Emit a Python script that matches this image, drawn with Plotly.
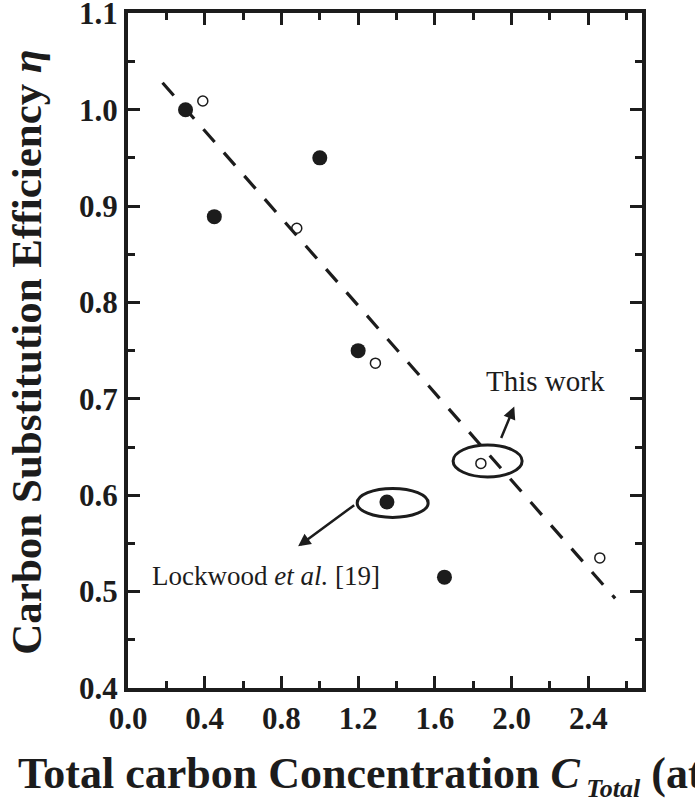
import plotly.graph_objects as go

# Data
lock_x = [0.30, 0.45, 1.00, 1.20, 1.35, 1.65]
lock_y = [1.000, 0.889, 0.950, 0.750, 0.593, 0.515]
work_x = [0.39, 0.88, 1.29, 1.84, 2.46]
work_y = [1.009, 0.877, 0.737, 0.633, 0.535]
fit_x = [0.18, 2.54]
fit_y = [1.028, 0.493]
x_ticks = [0.0, 0.4, 0.8, 1.2, 1.6, 2.0, 2.4]
y_ticks = [0.4, 0.5, 0.6, 0.7, 0.8, 0.9, 1.0, 1.1]

FONT = "Liberation Serif, Times New Roman, serif"
INK = "#1c1c1c"

fig = go.Figure()
fig.add_trace(go.Scatter(x=fit_x, y=fit_y, mode="lines",
                         line=dict(color=INK, width=3.2, dash="17px,14px"),
                         showlegend=False, hoverinfo="skip"))
fig.add_trace(go.Scatter(x=lock_x, y=lock_y, mode="markers",
                         marker=dict(symbol="circle", size=15, color=INK),
                         showlegend=False))
fig.add_trace(go.Scatter(x=work_x, y=work_y, mode="markers",
                         marker=dict(symbol="circle-open", size=10, color=INK,
                                     line=dict(width=1.5, color=INK)),
                         showlegend=False))

# ellipses
fig.add_shape(type="circle", xref="x", yref="y", x0=1.695, x1=2.055, y0=0.619, y1=0.652,
              line=dict(color=INK, width=3))
fig.add_shape(type="circle", xref="x", yref="y", x0=1.195, x1=1.565, y0=0.577, y1=0.607,
              line=dict(color=INK, width=3))

# arrows
fig.add_annotation(x=2.014, y=0.692, ax=1.93, ay=0.652, xref="x", yref="y",
                   axref="x", ayref="y", showarrow=True, arrowhead=2, arrowsize=1,
                   arrowwidth=2.5, arrowcolor=INK, text=" ")
fig.add_annotation(x=0.887, y=0.547, ax=1.195, ay=0.592, xref="x", yref="y",
                   axref="x", ayref="y", showarrow=True, arrowhead=2, arrowsize=1,
                   arrowwidth=2.5, arrowcolor=INK, text=" ")

# labels
fig.add_annotation(x=2.175, y=0.719, xref="x", yref="y", text="This work",
                   showarrow=False, font=dict(family=FONT, size=29, color=INK))
fig.add_annotation(x=0.72, y=0.516, xref="x", yref="y",
                   text="Lockwood <i>et al.</i> [19]",
                   showarrow=False, font=dict(family=FONT, size=27, color=INK))

# axis titles as annotations
fig.add_annotation(x=-0.217, y=-0.131, xref="paper", yref="paper", xanchor="left",
                   yanchor="middle", showarrow=False,
                   text=("<b>Total carbon Concentration <i>C</i>"
                         "<sub><span style='font-size:26px'><i> Total</i></span></sub>"
                         " (at.%)</b>"),
                   font=dict(family=FONT, size=44, color=INK))
fig.add_annotation(x=-0.198, y=0.497, xref="paper", yref="paper", textangle=-90,
                   xanchor="center", yanchor="middle", showarrow=False,
                   text="<b>Carbon Substitution Efficiency <i>η</i></b>",
                   font=dict(family=FONT, size=43, color=INK))

axis_common = dict(showline=True, linewidth=4, linecolor=INK, mirror="ticks",
                   ticks="inside", ticklen=12, tickwidth=3, tickcolor=INK,
                   showgrid=False, zeroline=False, ticklabeloverflow="allow",
                   automargin=False,
                   tickfont=dict(family=FONT, size=31, color=INK, weight="bold"))

fig.update_xaxes(range=[0, 2.68], tickmode="array", tickvals=x_ticks,
                 ticktext=[f"{v:.1f}" for v in x_ticks],
                 minor=dict(ticks="inside", ticklen=7, tickwidth=3, dtick=0.2,
                            tick0=0, tickcolor=INK),
                 **axis_common)
fig.update_yaxes(range=[0.4, 1.1003], tickmode="array", tickvals=y_ticks,
                 ticktext=[f"{v:.1f}" for v in y_ticks],
                 minor=dict(ticks="inside", ticklen=7, tickwidth=3, dtick=0.05,
                            tick0=0.4, tickcolor=INK),
                 **axis_common)

fig.update_layout(width=695, height=805, plot_bgcolor="white", paper_bgcolor="white",
                  margin=dict(l=128, r=53, t=13, b=117, autoexpand=False),
                  showlegend=False)

fig.write_html("out.html")
